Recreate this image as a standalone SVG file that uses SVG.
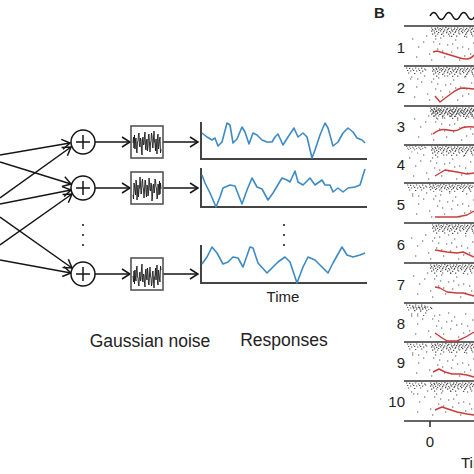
<svg xmlns="http://www.w3.org/2000/svg" xmlns:xlink="http://www.w3.org/1999/xlink" width="474" height="474" viewBox="0 0 474 474">
<style>
.ln{stroke:#151515;stroke-width:1.5;fill:none}
.add{fill:#fff;stroke:#151515;stroke-width:1.5}
.box{fill:#fff;stroke:#555;stroke-width:1.6}
.noise{fill:none;stroke:#1a1a1a;stroke-width:0.9;stroke-linejoin:round}
.axis{stroke:#444;stroke-width:2;fill:none}
.resp{fill:none;stroke:#3d8ac4;stroke-width:1.6;stroke-linejoin:round}
.sep{stroke:#333;stroke-width:1.6}
.red{fill:none;stroke:#cc3b3b;stroke-width:1.4;stroke-linejoin:round}
.dots{fill:none;stroke:#555;stroke-width:1.2}
.t{font-family:"Liberation Sans",Arial,sans-serif;fill:#222}
.dot{fill:#222}
</style>
<defs>
<marker id="ah" viewBox="-9 -6 10 12" refX="0" refY="0" markerWidth="10" markerHeight="12" markerUnits="userSpaceOnUse" orient="auto">
<path d="M-8,-5 L0,0 L-8,5" fill="none" stroke="#151515" stroke-width="1.5"/>
</marker>
<path id="nz" class="noise" d="M2,14 L2.5,8 3,19 3.5,6 4,20 4.5,11 5,9 5.5,22 6,24 6.5,13 7,12 7.5,5 8,4 8.5,17 9,18 9.5,9 10,11 10.5,21 11,26 11.5,10 12,8 12.5,16 13,15 13.5,7 14,3 14.5,19 15,21 15.5,12 16,10 16.5,22 17,17 17.5,6 18,5 18.5,15 19,23 19.5,14 20,12 20.5,4 21,7 21.5,18 22,19 22.5,9 23,2 23.5,13 24,14 24.5,22 25,10 25.5,17 26,25 26.5,8 27,5 27.5,20 28,16 28.5,11 29,8 29.5,24 30,20"/>
<path id="D" class="dots" d="M27,1h1.3M30.5,1.3h1.3M33,0.8h1.3M35.5,1.5h1.3M38,1h1.3M41.2,0.7h1.3M44,1.4h1.3M46.5,1h1.3M50,1.2h1.3M53,0.8h1.3M56.4,1.5h1.3M59,1h1.3M62,1.3h1.3M65.3,0.9h1.3M68,1.4h1.3M28,2.7h1.3M31,2.4h1.3M34.2,2.9h1.3M37,2.5h1.3M40,2.8h1.3M43,2.3h1.3M47,2.9h1.3M49.3,2.5h1.3M52,2.7h1.3M55,2.3h1.3M58.2,2.8h1.3M61,2.5h1.3M64,2.9h1.3M67,2.4h1.3M70,2.7h1.3M27,4.2h1.3M29.5,4h1.3M32,4.4h1.3M36,3.9h1.3M39,4.3h1.3M42.3,4h1.3M45,4.5h1.3M48,4.1h1.3M51,4.3h1.3M54.2,3.9h1.3M57,4.4h1.3M60,4h1.3M63,4.3h1.3M66,4h1.3M69,4.4h1.3M30,5.8h1.3M34,5.5h1.3M38.4,6h1.3M42,5.6h1.3M46,5.9h1.3M50.5,5.5h1.3M54,6h1.3M58,5.6h1.3M62,5.8h1.3M66.5,5.5h1.3M28,7.2h1.3M33,7h1.3M37,7.4h1.3M44,7.1h1.3M49,7.3h1.3M55,7h1.3M61,7.4h1.3M67,7.1h1.3M31,9.2h1.3M39,9h1.3M47,9.4h1.3M52,9.1h1.3M60,9.3h1.3M68,9h1.3"/>
<path id="S" class="dots" d="M8,12h1.3M14,20h1.3M22,9h1.3M25,27h1.3M29,15h1.3M33,22h1.3M36,11h1.3M40,30h1.3M43,18h1.3M47,25h1.3M51,13h1.3M55,33h1.3M58,20h1.3M62,10h1.3M66,27h1.3M69,16h1.3M12,30h1.3M19,15h1.3M38,24h1.3M45,9h1.3M53,21h1.3M60,29h1.3M27,33h1.3M48,17h1.3M64,22h1.3M31,12h1.3M35,17h1.3"/>
<path id="L" class="dots" d="M2,1h1.3M5,1.3h1.3M8,2h1.3M11,1h1.3M14,2h1.3M17,1.2h1.3M20,2h1.3M3,3.5h1.3M6,4h1.3M9,3.5h1.3M12,4h1.3M15,3.5h1.3M18,4.2h1.3M21,3h1.3M4,6h1.3M10,6.5h1.3M16,6h1.3M7,10h1.3M13,12h1.3"/>
</defs>

<g id="connectors">
<line class="ln" x1="0" y1="155" x2="70" y2="143" marker-end="url(#ah)"/>
<line class="ln" x1="0" y1="198" x2="71" y2="147" marker-end="url(#ah)"/>
<line class="ln" x1="0" y1="162" x2="71" y2="184" marker-end="url(#ah)"/>
<line class="ln" x1="0" y1="204" x2="71" y2="190" marker-end="url(#ah)"/>
<line class="ln" x1="0" y1="245" x2="72" y2="194" marker-end="url(#ah)"/>
<line class="ln" x1="0" y1="217" x2="72" y2="268" marker-end="url(#ah)"/>
<line class="ln" x1="0" y1="260" x2="71" y2="273" marker-end="url(#ah)"/>
<line class="ln" x1="95" y1="142" x2="130" y2="142" marker-end="url(#ah)"/>
<line class="ln" x1="95" y1="188" x2="130" y2="188" marker-end="url(#ah)"/>
<line class="ln" x1="95" y1="274" x2="130" y2="274" marker-end="url(#ah)"/>
<line class="ln" x1="163" y1="142" x2="198" y2="142" marker-end="url(#ah)"/>
<line class="ln" x1="163" y1="188" x2="198" y2="188" marker-end="url(#ah)"/>
<line class="ln" x1="163" y1="274" x2="198" y2="274" marker-end="url(#ah)"/>
</g>

<g id="adder1"><circle class="add" cx="83" cy="142" r="12"/><path class="ln" d="M76,142h14M83,135v14"/></g>
<g id="adder2"><circle class="add" cx="83" cy="188" r="12"/><path class="ln" d="M76,188h14M83,181v14"/></g>
<g id="adder3"><circle class="add" cx="83" cy="274" r="12"/><path class="ln" d="M76,274h14M83,267v14"/></g>
<g id="vdots-left"><circle class="dot" cx="83" cy="225" r="1.1"/><circle class="dot" cx="83" cy="235" r="1.1"/><circle class="dot" cx="83" cy="245" r="1.1"/></g>

<g id="noise1"><rect class="box" x="131" y="126" width="32" height="32"/><use href="#nz" transform="translate(131,129)"/></g>
<g id="noise2"><rect class="box" x="131" y="172" width="32" height="32"/><use href="#nz" transform="translate(163,175) scale(-1,1)"/></g>
<g id="noise3"><rect class="box" x="131" y="258" width="32" height="32"/><use href="#nz" transform="translate(131,290) scale(1,-1)"/></g>

<g id="response1">
<path class="axis" d="M201,122V159H367"/>
<polyline class="resp" points="202,133 207,137 212,140 215,138 218,146 222,142 227,123 230,125 233,143 237,139 242,127 245,132 249,144 253,133 257,135 262,140 267,142 272,142 275,137 278,134 283,145 288,137 294,128 298,137 303,133 307,137 312,158 315,150 320,135 325,123 328,128 333,146 338,142 343,133 348,128 353,132 357,138 362,140 365,143"/>
</g>
<g id="response2">
<path class="axis" d="M201,168V207H367"/>
<polyline class="resp" points="202,175 205,183 210,193 216,207 220,197 223,188 230,185 235,186 242,204 247,190 252,178 257,187 262,189 268,200 273,193 282,178 287,180 290,182 295,171 298,182 303,185 310,178 315,185 322,180 325,185 330,185 333,192 338,188 343,192 348,188 355,187 360,185 365,169"/>
</g>
<g id="response3">
<path class="axis" d="M201,245V283H367"/>
<polyline class="resp" points="202,264 207,257 212,247 217,253 223,264 228,262 233,257 238,258 243,267 250,247 253,248 258,263 267,273 273,267 278,262 285,257 290,262 297,283 303,267 308,257 315,260 322,267 328,273 333,263 342,247 347,255 353,257 360,255 365,253"/>
</g>
<g id="vdots-right"><circle class="dot" cx="284" cy="225" r="1.1"/><circle class="dot" cx="284" cy="235" r="1.1"/><circle class="dot" cx="284" cy="245" r="1.1"/></g>

<text class="t" x="283" y="302" font-size="15" text-anchor="middle" fill="#333">Time</text>
<text class="t" x="150" y="347" font-size="17.5" text-anchor="middle">Gaussian noise</text>
<text class="t" x="284" y="346" font-size="17.5" text-anchor="middle">Responses</text>

<g id="panelB">
<text class="t" x="374" y="18" font-size="15" font-weight="bold" fill="#111">B</text>
<path class="ln" stroke-width="1.3" d="M430,16 q3.75,-7 7.5,0 t7.5,0 t7.5,0 t7.5,0 t7.5,0 t7.5,0"/>
<g id="rasters">
<use href="#D" transform="translate(404,27)"/><use href="#S" transform="translate(404,27)"/>
<use href="#D" transform="translate(405,67)"/><use href="#S" transform="translate(402,67)"/><use href="#L" transform="translate(404,67)"/>
<use href="#D" transform="translate(403,107)"/><use href="#D" transform="translate(405,109)"/><use href="#S" transform="translate(406,107)"/>
<use href="#D" transform="translate(404,146)"/><use href="#S" transform="translate(401,146)"/><use href="#L" transform="translate(404,146) scale(1,0.6)"/>
<use href="#D" transform="translate(402,184) scale(1,0.8)"/><use href="#S" transform="translate(404,184)"/><use href="#L" transform="translate(405,184)"/>
<use href="#D" transform="translate(405,224)"/><use href="#S" transform="translate(403,226)"/>
<use href="#D" transform="translate(403,264)"/><use href="#S" transform="translate(405,264)"/>
<use href="#L" transform="translate(404,304)"/><use href="#S" transform="translate(403,304)"/><use href="#L" transform="translate(410,306) scale(1,0.8)"/>
<use href="#D" transform="translate(404,343)"/><use href="#S" transform="translate(404,343)"/><use href="#L" transform="translate(405,343)"/>
<use href="#D" transform="translate(403,382)"/><use href="#S" transform="translate(405,382)"/><use href="#L" transform="translate(404,382)"/>
</g>
<g id="separators">
<line class="sep" x1="404" y1="26" x2="474" y2="26"/>
<line class="sep" x1="404" y1="66" x2="474" y2="66"/>
<line class="sep" x1="404" y1="106" x2="474" y2="106"/>
<line class="sep" x1="404" y1="145" x2="474" y2="145"/>
<line class="sep" x1="404" y1="183" x2="474" y2="183"/>
<line class="sep" x1="404" y1="223" x2="474" y2="223"/>
<line class="sep" x1="404" y1="263" x2="474" y2="263"/>
<line class="sep" x1="404" y1="303" x2="474" y2="303"/>
<line class="sep" x1="404" y1="342" x2="474" y2="342"/>
<line class="sep" x1="404" y1="381" x2="474" y2="381"/>
<line class="sep" x1="404" y1="421" x2="474" y2="421"/>
<line class="sep" x1="430" y1="421" x2="430" y2="427"/>
</g>
<g id="psth">
<path class="red" d="M433,52 L437,51 Q450,55 460,58 T474,55"/>
<path class="red" d="M435,96 L440,102 L452,93 Q458,88 464,88 L474,89"/>
<path class="red" d="M433,134 Q440,128 448,130 T460,129 T474,127"/>
<polyline class="red" points="435,176 445,170 457,172 467,174 474,173"/>
<polyline class="red" points="435,217 457,217 467,215 474,211"/>
<polyline class="red" points="435,250 447,252 457,253 463,252 474,257"/>
<polyline class="red" points="435,287 440,288 447,292 457,293 463,293 474,296"/>
<path class="red" d="M435,333 Q442,338 447,341 L457,341 Q467,337 474,332"/>
<polyline class="red" points="433,372 439,369 445,372 452,374 460,374 467,375 474,377"/>
<polyline class="red" points="435,410 442,407 448,409 457,412 467,414 474,415"/>
</g>
<g font-size="15" class="t" text-anchor="end">
<text class="t" x="405" y="53">1</text>
<text class="t" x="405" y="93">2</text>
<text class="t" x="405" y="132">3</text>
<text class="t" x="405" y="170">4</text>
<text class="t" x="405" y="210">5</text>
<text class="t" x="405" y="250">6</text>
<text class="t" x="405" y="290">7</text>
<text class="t" x="405" y="329">8</text>
<text class="t" x="405" y="368">9</text>
<text class="t" x="405" y="407">10</text>
</g>
<text class="t" x="430" y="447" font-size="15" text-anchor="middle">0</text>
<text class="t" x="461" y="468" font-size="15">Time</text>
</g>
</svg>
